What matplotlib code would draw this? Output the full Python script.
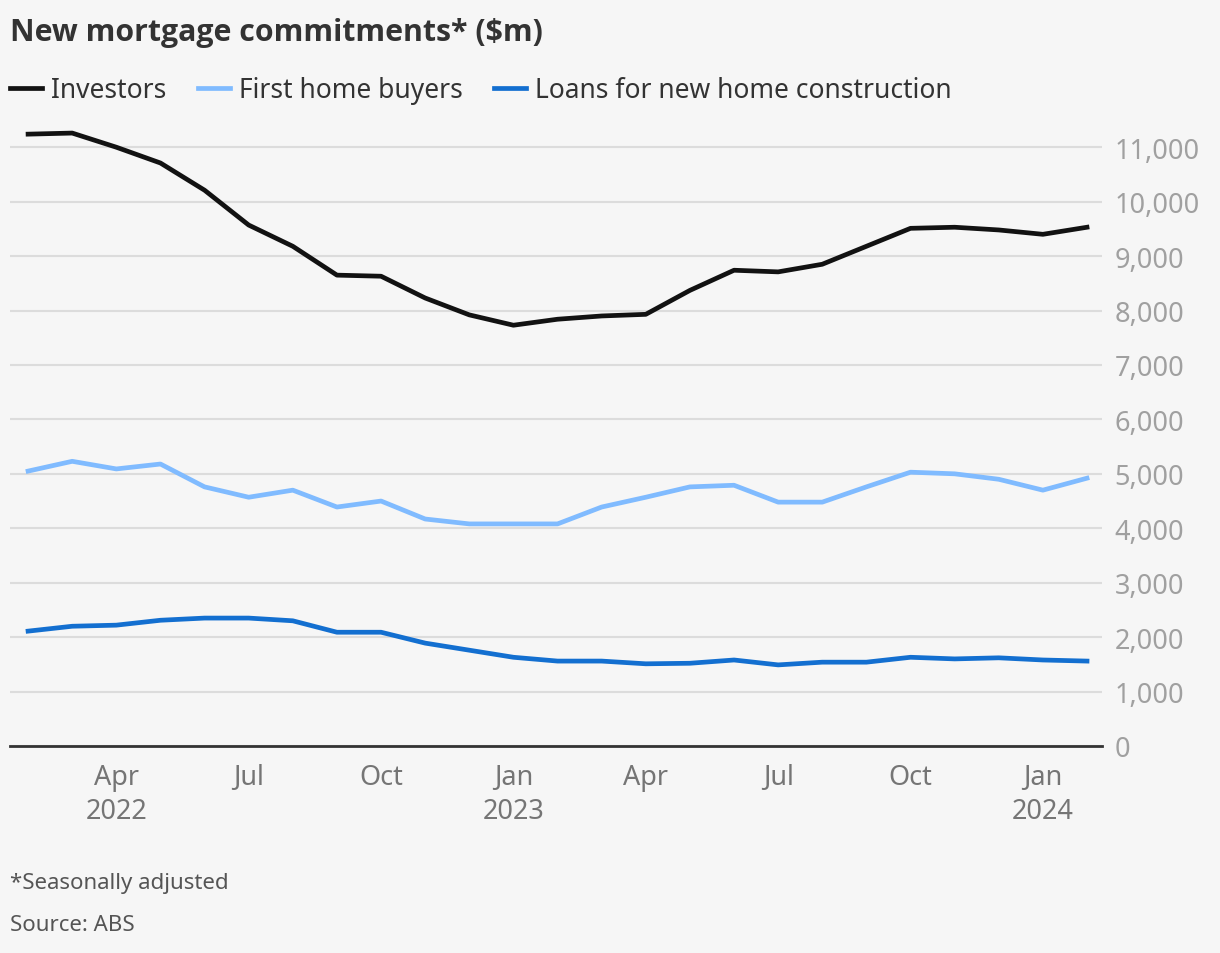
import numpy as np
import matplotlib.pyplot as plt

months = ['Feb 2022', 'Mar 2022', 'Apr 2022', 'May 2022', 'Jun 2022', 'Jul 2022',
          'Aug 2022', 'Sep 2022', 'Oct 2022', 'Nov 2022', 'Dec 2022', 'Jan 2023',
          'Feb 2023', 'Mar 2023', 'Apr 2023', 'May 2023', 'Jun 2023', 'Jul 2023',
          'Aug 2023', 'Sep 2023', 'Oct 2023', 'Nov 2023', 'Dec 2023', 'Jan 2024',
          'Feb 2024']

investors = [11240, 11260, 11000, 10710, 10210, 9570, 9180, 8650, 8630, 8230,
             7920, 7730, 7840, 7900, 7930, 8370, 8740, 8710, 8850, 9180,
             9510, 9530, 9480, 9400, 9530]
first_home = [5050, 5230, 5090, 5180, 4760, 4570, 4700, 4390, 4500, 4170,
              4080, 4080, 4080, 4390, 4570, 4760, 4790, 4480, 4480, 4760,
              5030, 5000, 4900, 4700, 4920]
construction = [2110, 2200, 2220, 2310, 2350, 2350, 2300, 2090, 2090, 1890,
                1760, 1630, 1560, 1560, 1510, 1520, 1580, 1490, 1540, 1540,
                1630, 1600, 1620, 1580, 1560]

tick_pos = [2, 5, 8, 11, 14, 17, 20, 23]
tick_labels = ['Apr\n2022', 'Jul', 'Oct', 'Jan\n2023', 'Apr', 'Jul', 'Oct', 'Jan\n2024']
yticks = np.arange(0, 11001, 1000)

plt.rcParams['font.family'] = ['Noto Sans', 'DejaVu Sans']
bg = '#f6f6f6'

fig = plt.figure(figsize=(12.2, 9.54), dpi=100, facecolor=bg)
ax = fig.add_axes([10/1220, 207/954, 1092/1220, 626/954], facecolor=bg)

x = np.arange(len(months))
ax.plot(x, investors, color='#121212', lw=3.4, label='Investors')
ax.plot(x, first_home, color='#80bbff', lw=3.4, label='First home buyers')
ax.plot(x, construction, color='#136fd0', lw=3.4, label='Loans for new home construction')

ax.set_xlim(-0.41, 24.34)
ax.set_ylim(0, 11500)
ax.set_yticks(yticks)
ax.set_yticklabels([f'{v:,}' for v in yticks])
ax.yaxis.tick_right()
ax.tick_params(axis='y', length=0, pad=9, labelsize=19.5, labelcolor='#a0a0a0')
ax.set_xticks(tick_pos)
ax.set_xticklabels(tick_labels, linespacing=1.3)
ax.tick_params(axis='x', length=0, pad=12, labelsize=19.5, labelcolor='#757575')
ax.grid(axis='y', color='#dcdcdc', lw=1.5)
ax.set_axisbelow(True)
for s in ['top', 'right', 'left']:
    ax.spines[s].set_visible(False)
ax.spines['bottom'].set_color('#333333')
ax.spines['bottom'].set_linewidth(2)

fig.text(10/1220, 1 - 33/954, 'New mortgage commitments* ($m)', fontsize=21.8,
         fontweight='bold', family=['Open Sans', 'DejaVu Sans'], color='#333333', va='center')
leg = fig.legend(loc='center left', bbox_to_anchor=(10/1220, 1 - 91/954), ncol=3, frameon=False,
                 fontsize=19, handlelength=1.2, handletextpad=0.35, columnspacing=1.2,
                 borderaxespad=0, borderpad=0)
for t in leg.get_texts():
    t.set_color('#333333')
fig.text(10/1220, 1 - 884/954, '*Seasonally adjusted', fontsize=16, color='#555555', va='center')
fig.text(10/1220, 1 - 926/954, 'Source: ABS', fontsize=16, color='#555555', va='center')

fig.savefig('out.png', dpi=100, facecolor=bg)
